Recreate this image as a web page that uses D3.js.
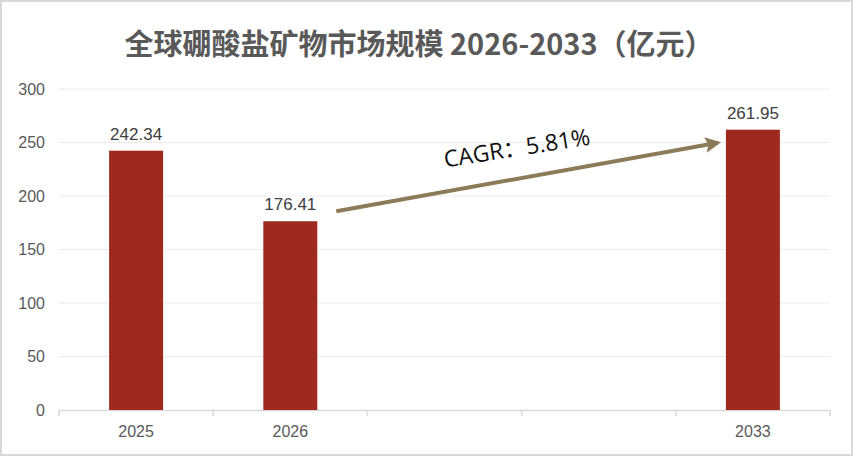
<!DOCTYPE html>
<html><head><meta charset="utf-8">
<script src="https://cdn.jsdelivr.net/npm/d3@7"></script>
<style>body{margin:0;background:#fff}</style>
</head><body>
<svg id="c" width="853" height="456"></svg>
<script>
const categories = ["2025", "2026", "", " ", "2033"];
const values = [242.34, 176.41, null, null, 261.95];
const yTicks = [0, 50, 100, 150, 200, 250, 300];
const title = "全球硼酸盐矿物市场规模 2026-2033（亿元）";
const cagrText = "CAGR：5.81%";

const svg = d3.select("#c");
const W = 853, H = 456;
svg.append("rect").attr("x", 1).attr("y", 1).attr("width", W - 2).attr("height", H - 2)
  .attr("fill", "#fff").attr("stroke", "#d9d9d9").attr("stroke-width", 2);

const m = {l: 59, r: 23, t: 89, b: 46};
const x = d3.scaleBand().domain(categories).range([m.l, W - m.r]).paddingInner(0.65).paddingOuter(0.325);
const xOuter = d3.scaleBand().domain(categories).range([m.l, W - m.r]);
const y = d3.scaleLinear().domain([0, 300]).range([H - m.b, m.t]);

// grid
svg.append("g").selectAll("line").data(yTicks.filter(d => d > 0)).join("line")
  .attr("x1", m.l).attr("x2", W - m.r)
  .attr("y1", d => y(d)).attr("y2", d => y(d))
  .attr("stroke", "#ececec").attr("stroke-width", 1);

// y axis labels
const ya = svg.append("g").attr("transform", `translate(${m.l},0)`)
  .call(d3.axisLeft(y).tickValues(yTicks).tickSize(0).tickPadding(14));
ya.select(".domain").remove();
ya.selectAll("text").attr("font-family", "Liberation Sans, Arial, sans-serif")
  .attr("font-size", 16).attr("fill", "#595959");

// x axis
const xa = svg.append("g").attr("transform", `translate(0,${y(0)})`)
  .call(d3.axisBottom(xOuter).tickSize(0).tickPadding(16));
xa.select(".domain").attr("stroke", "#d9d9d9").attr("stroke-width", 1.5);
xa.selectAll("text").attr("font-family", "Liberation Sans, Arial, sans-serif")
  .attr("font-size", 16).attr("fill", "#595959");
// category boundary ticks
const bounds = categories.map(c => xOuter(c)).concat([xOuter(categories[categories.length - 1]) + xOuter.bandwidth()]);
svg.append("g").selectAll("line").data(bounds).join("line")
  .attr("x1", d => d).attr("x2", d => d)
  .attr("y1", y(0)).attr("y2", y(0) + 6)
  .attr("stroke", "#d9d9d9").attr("stroke-width", 1.5);

// bars
const data = categories.map((c, i) => ({c, v: values[i]})).filter(d => d.v != null);
svg.append("g").selectAll("rect").data(data).join("rect")
  .attr("x", d => x(d.c)).attr("width", x.bandwidth())
  .attr("y", d => y(d.v)).attr("height", d => y(0) - y(d.v))
  .attr("fill", "#9e2a1f");

svg.append("g").selectAll("text").data(data).join("text")
  .attr("x", d => x(d.c) + x.bandwidth() / 2).attr("y", d => y(d.v) - 11)
  .attr("text-anchor", "middle")
  .attr("font-family", "Liberation Sans, Arial, sans-serif").attr("font-size", 17)
  .attr("fill", "#404040").text(d => d.v.toFixed(2));

// title
svg.append("text").attr("x", 419).attr("y", 55).attr("text-anchor", "middle")
  .attr("font-family", "Noto Sans CJK SC, sans-serif").attr("font-weight", "bold")
  .attr("font-size", 29).attr("fill", "#595959").text(title);

// CAGR arrow
const defs = svg.append("defs");
defs.append("marker").attr("id", "ah").attr("viewBox", "0 0 10 10")
  .attr("refX", 8).attr("refY", 5).attr("markerWidth", 4).attr("markerHeight", 4)
  .attr("orient", "auto").attr("markerUnits", "strokeWidth")
  .append("path").attr("d", "M0,0 L10,5 L0,10 L2,5 Z").attr("fill", "#8c7b58");
const x1 = x("2026") + x.bandwidth() + 19, y1 = y(values[1]) - 10;
const x2 = x("2033") - 8, y2 = y(values[4]) + 13;
svg.append("line").attr("x1", x1).attr("y1", y1).attr("x2", x2).attr("y2", y2)
  .attr("stroke", "#8c7b58").attr("stroke-width", 4).attr("marker-end", "url(#ah)");
svg.append("text").attr("transform", `translate(${(x1 + x2) / 2 - 9},${(y1 + y2) / 2 - 21}) rotate(-9)`)
  .attr("text-anchor", "middle")
  .attr("font-family", "Open Sans, Noto Sans CJK SC, sans-serif").attr("font-size", 23)
  .attr("fill", "#111").text(cagrText);
</script>
</body></html>
